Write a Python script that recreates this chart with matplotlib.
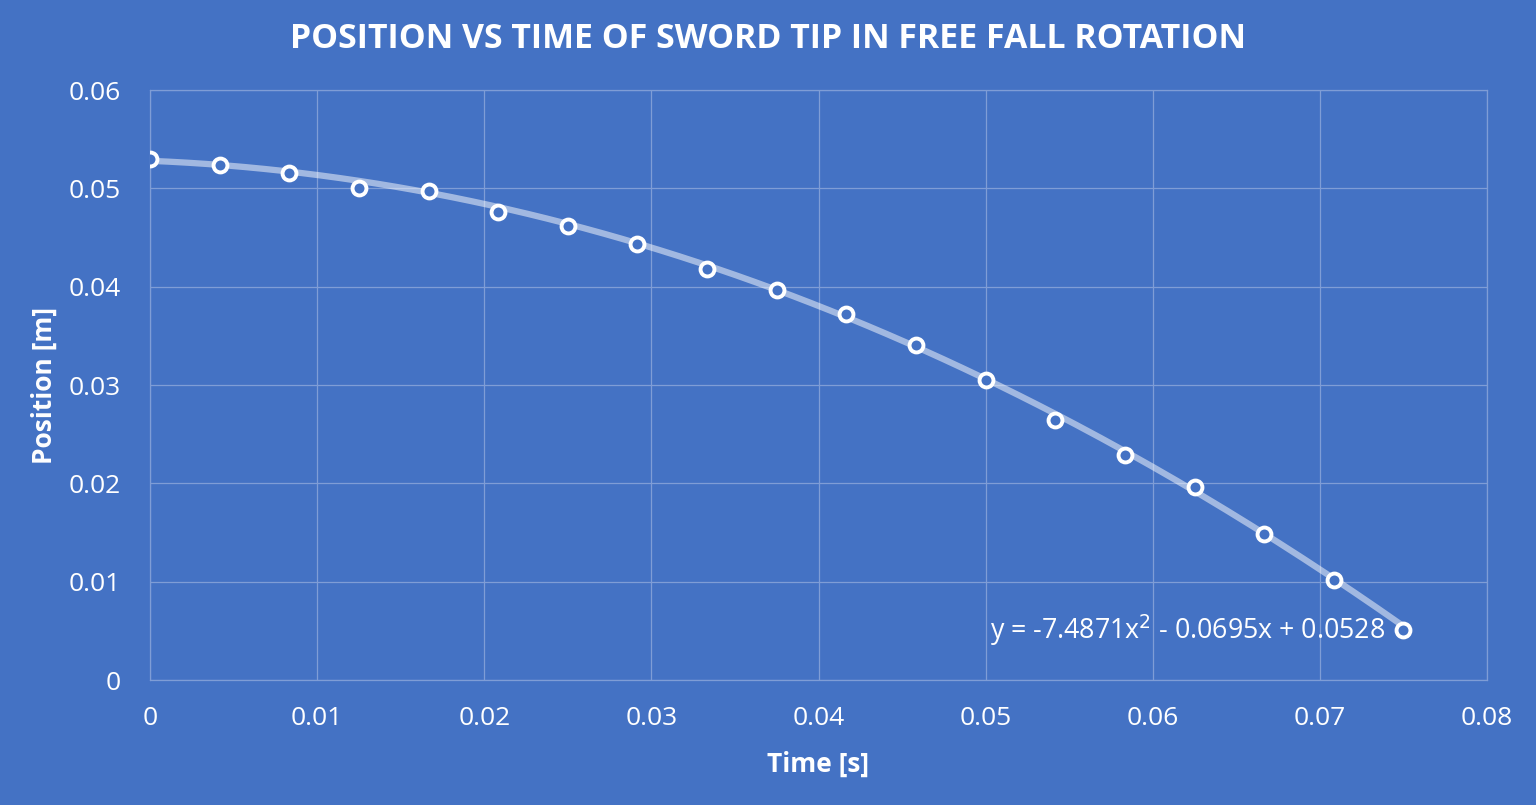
import matplotlib
matplotlib.use("Agg")
import matplotlib.pyplot as plt
import numpy as np

plt.rcParams['font.family'] = ['Open Sans', 'DejaVu Sans']

time_s = [0.0, 0.004167, 0.008333, 0.0125, 0.016667, 0.020833, 0.025, 0.029167,
          0.033333, 0.0375, 0.041667, 0.045833, 0.05, 0.054167, 0.058333,
          0.0625, 0.066667, 0.070833, 0.075]
position_m = [0.0530, 0.0524, 0.0516, 0.0500, 0.0497, 0.0476, 0.0462, 0.0443,
              0.0418, 0.0397, 0.0372, 0.0341, 0.0305, 0.0264, 0.0229,
              0.0196, 0.0148, 0.0102, 0.0051]
fit_coeffs = [-7.4871, -0.0695, 0.0528]
fit_label = "y = -7.4871x$^{2}$ - 0.0695x + 0.0528"

bg = '#4472C4'
fig = plt.figure(figsize=(15.36, 8.05), dpi=100, facecolor=bg)
ax = fig.add_axes([150/1536, (805-680)/805, (1487-150)/1536, (680-90)/805], facecolor=bg)

grid_c = '#7F9DD6'
ax.set_xlim(0, 0.08)
ax.set_ylim(0, 0.06)
ax.set_xticks(np.arange(0, 0.081, 0.01))
ax.set_yticks(np.arange(0, 0.061, 0.01))
ax.set_xticklabels(['0', '0.01', '0.02', '0.03', '0.04', '0.05', '0.06', '0.07', '0.08'])
ax.set_yticklabels(['0', '0.01', '0.02', '0.03', '0.04', '0.05', '0.06'])
ax.grid(True, color=grid_c, linewidth=0.9)
ax.set_axisbelow(True)
for s in ax.spines.values():
    s.set_color(grid_c)
    s.set_linewidth(0.9)
ax.tick_params(axis='y', length=0, colors='white', labelsize=19, pad=21)
ax.tick_params(axis='x', length=0, colors='white', labelsize=19, pad=19)

xs = np.linspace(0, 0.075, 200)
ax.plot(xs, np.polyval(fit_coeffs, xs), color=(1, 1, 1, 0.5), linewidth=4.5, zorder=2)
ax.plot(time_s, position_m, linestyle='none', marker='o', markersize=10,
        markerfacecolor=bg, markeredgecolor='white', markeredgewidth=2.8, zorder=3)

ax.text(0.0739, 0.00508, fit_label, color='white', fontsize=19.3, ha='right', va='center', zorder=4)

ax.set_xlabel('Time [s]', color='white', fontsize=19, fontweight='bold', labelpad=14)
ax.set_ylabel('Position [m]', color='white', fontsize=19, fontweight='bold', labelpad=8)
fig.text(768/1536, 1 - 39/805, 'POSITION VS TIME OF SWORD TIP IN FREE FALL ROTATION',
         color='white', fontsize=24.4, fontweight='bold', ha='center', va='center')

fig.savefig('out.png', dpi=100, facecolor=bg)
